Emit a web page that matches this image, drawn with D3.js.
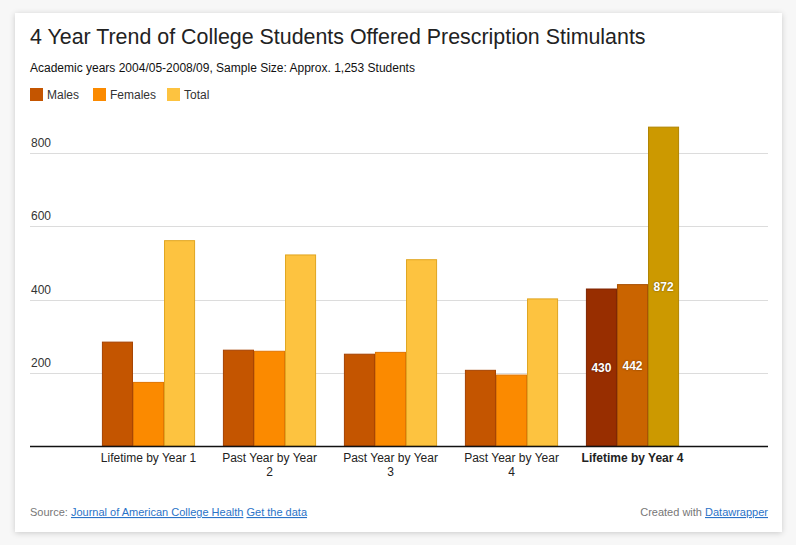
<!DOCTYPE html>
<html>
<head>
<meta charset="utf-8">
<script src="https://cdn.jsdelivr.net/npm/d3@7"></script>
<style>
  body { margin: 0; background: #f7f7f7; font-family: "Liberation Sans", Arial, sans-serif; }
  #card { position: absolute; left: 15px; top: 13px; width: 767px; height: 519px; background: #fff;
          box-shadow: 0 1px 6px rgba(0,0,0,0.18); }
  svg { position: absolute; left: 0; top: 0; }
</style>
</head>
<body>
<div id="card"></div>
<div id="chart"></div>
<script>
const categories = ["Lifetime by Year 1", "Past Year by Year 2", "Past Year by Year 3", "Past Year by Year 4", "Lifetime by Year 4"];
const series = ["Males", "Females", "Total"];
const males = [285, 263, 252, 208, 430];
const females = [175, 260, 257, 195, 442];
const total = [562, 523, 510, 403, 872];
const yTicks = [200, 400, 600, 800];
const highlighted = "Lifetime by Year 4";

const width = 796;
const height = 545;

const fills = { Males: "#c45500", Females: "#fb8a00", Total: "#fdc340" };
const strokes = { Males: "#a54200", Females: "#e07400", Total: "#e0a520" };
const hiFills = { Males: "#982e00", Females: "#ca6400", Total: "#cc9900" };
const hiStrokes = { Males: "#7e2400", Females: "#a85000", Total: "#b08400" };

const values = { Males: males, Females: females, Total: total };
const data = [];
categories.forEach((c, i) => {
  series.forEach((s) => data.push({ cat: c, series: s, value: values[s][i] }));
});

const svg = d3.select("#chart").append("svg")
  .attr("width", width).attr("height", height);

// header
svg.append("text").text("4 Year Trend of College Students Offered Prescription Stimulants")
  .attr("x", 30).attr("y", 44).attr("font-size", 21.4).attr("fill", "#222");
svg.append("text").text("Academic years 2004/05-2008/09, Sample Size: Approx. 1,253 Students")
  .attr("x", 30).attr("y", 72).attr("font-size", 12).attr("fill", "#111");

// legend
const legendX = [30, 93, 167];
const legend = svg.selectAll("g.legend").data(series).join("g")
  .attr("class", "legend")
  .attr("transform", (d, i) => `translate(${legendX[i]}, 88)`);
legend.append("rect").attr("width", 13).attr("height", 13).attr("fill", (d) => fills[d]);
legend.append("text").text((d) => d).attr("x", 17).attr("y", 11)
  .attr("font-size", 12).attr("fill", "#333");

// scales
const y = d3.scaleLinear().domain([0, 800]).range([446, 153]);
const x = d3.scaleBand().domain(categories).range([88, 693])
  .paddingInner(0.23).paddingOuter(0.115);
const xs = d3.scaleBand().domain(series).range([0, x.bandwidth()]);

// grid
svg.append("g").selectAll("line").data(yTicks).join("line")
  .attr("x1", 30).attr("x2", 768)
  .attr("y1", (d) => Math.round(y(d)) + 0.5).attr("y2", (d) => Math.round(y(d)) + 0.5)
  .attr("stroke", "#dcdcdc");
svg.append("g").selectAll("text").data(yTicks).join("text")
  .text((d) => d)
  .attr("x", 31).attr("y", (d) => y(d) - 6)
  .attr("font-size", 12).attr("fill", "#333");

// bars
const isHi = (d) => d.cat === highlighted;
svg.append("g").selectAll("rect").data(data).join("rect")
  .attr("x", (d) => x(d.cat) + xs(d.series) + 0.5)
  .attr("y", (d) => y(d.value) + 0.5)
  .attr("width", xs.bandwidth() - 1)
  .attr("height", (d) => y(0) - y(d.value) - 0.5)
  .attr("fill", (d) => (isHi(d) ? hiFills[d.series] : fills[d.series]))
  .attr("stroke", (d) => (isHi(d) ? hiStrokes[d.series] : strokes[d.series]));

// value labels on highlighted group
svg.append("g").selectAll("text").data(data.filter(isHi)).join("text")
  .text((d) => d.value)
  .attr("x", (d) => x(d.cat) + xs(d.series) + xs.bandwidth() / 2)
  .attr("y", (d) => (y(d.value) + y(0)) / 2 + 5)
  .attr("text-anchor", "middle")
  .attr("font-size", 12).attr("font-weight", 700).attr("fill", "#fff")
  .style("text-shadow", "0 0 2px rgba(0,0,0,0.5)");

// baseline
svg.append("line").attr("x1", 30).attr("x2", 768)
  .attr("y1", y(0) + 0.5).attr("y2", y(0) + 0.5)
  .attr("stroke", "#111").attr("stroke-width", 1.3);

// x labels, wrapped to band width (highlighted one stays on one line)
const labels = svg.append("g").selectAll("text").data(categories).join("text")
  .attr("x", (d) => x(d) + x.bandwidth() / 2)
  .attr("y", 462)
  .attr("text-anchor", "middle")
  .attr("font-size", 12)
  .attr("font-weight", (d) => (d === highlighted ? 700 : 400))
  .attr("fill", "#222");
labels.each(function (d) {
  const el = d3.select(this);
  const maxW = d === highlighted ? 200 : x.bandwidth() + 6;
  const words = d.split(" ");
  let line = [];
  let tspan = el.append("tspan").attr("x", x(d) + x.bandwidth() / 2).attr("dy", 0);
  words.forEach((w) => {
    line.push(w);
    tspan.text(line.join(" "));
    if (tspan.node().getComputedTextLength() > maxW && line.length > 1) {
      line.pop();
      tspan.text(line.join(" "));
      line = [w];
      tspan = el.append("tspan").attr("x", x(d) + x.bandwidth() / 2).attr("dy", 14).text(w);
    }
  });
});

// footer
const footer = svg.append("text").attr("x", 30).attr("y", 516).attr("font-size", 11).attr("fill", "#777");
footer.append("tspan").text("Source: ");
footer.append("tspan").text("Journal of American College Health").attr("fill", "#2a73c8").attr("text-decoration", "underline");
footer.append("tspan").text(" ");
footer.append("tspan").text("Get the data").attr("fill", "#2a73c8").attr("text-decoration", "underline");

const credit = svg.append("text").attr("x", 768).attr("y", 516).attr("font-size", 11)
  .attr("fill", "#777").attr("text-anchor", "end");
credit.append("tspan").text("Created with ");
credit.append("tspan").text("Datawrapper").attr("fill", "#2a73c8").attr("text-decoration", "underline");
</script>
</body>
</html>
